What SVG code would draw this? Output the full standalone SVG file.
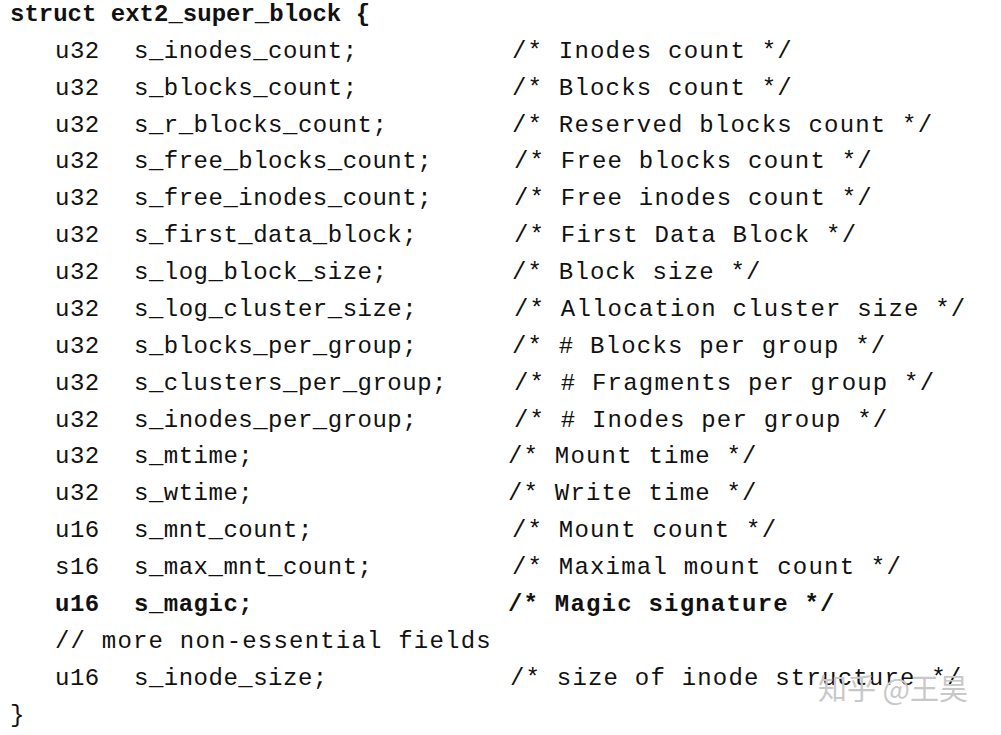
<svg xmlns="http://www.w3.org/2000/svg" width="1001" height="735" viewBox="0 0 1001 735">
<style>
text{font-family:"Liberation Mono","DejaVu Sans Mono",monospace;font-size:24px;letter-spacing:0.5px;fill:#111}
.b{font-weight:bold}
.h{letter-spacing:0}
.c{letter-spacing:1.2px}
.wm{font-family:"Noto Sans CJK SC",sans-serif;fill:#c8c8c8;font-size:29px;letter-spacing:0}
</style>
<rect width="1001" height="735" fill="#fff"/>
<text class="b h" x="10" y="21">struct ext2_super_block {</text>
<g>
<text x="55" y="58">u32</text><text x="134" y="58">s_inodes_count;</text><text class="c" x="512" y="58">/* Inodes count */</text>
<text x="55" y="95">u32</text><text x="134" y="95">s_blocks_count;</text><text class="c" x="512" y="95">/* Blocks count */</text>
<text x="55" y="132">u32</text><text x="134" y="132">s_r_blocks_count;</text><text class="c" x="512" y="132">/* Reserved blocks count */</text>
<text x="55" y="168">u32</text><text x="134" y="168">s_free_blocks_count;</text><text class="c" x="514" y="168">/* Free blocks count */</text>
<text x="55" y="205">u32</text><text x="134" y="205">s_free_inodes_count;</text><text class="c" x="514" y="205">/* Free inodes count */</text>
<text x="55" y="242">u32</text><text x="134" y="242">s_first_data_block;</text><text class="c" x="514" y="242">/* First Data Block */</text>
<text x="55" y="279">u32</text><text x="134" y="279">s_log_block_size;</text><text class="c" x="512" y="279">/* Block size */</text>
<text x="55" y="316">u32</text><text x="134" y="316">s_log_cluster_size;</text><text class="c" x="514" y="316">/* Allocation cluster size */</text>
<text x="55" y="353">u32</text><text x="134" y="353">s_blocks_per_group;</text><text class="c" x="512" y="353">/* # Blocks per group */</text>
<text x="55" y="390">u32</text><text x="134" y="390">s_clusters_per_group;</text><text class="c" x="514" y="390">/* # Fragments per group */</text>
<text x="55" y="427">u32</text><text x="134" y="427">s_inodes_per_group;</text><text class="c" x="514" y="427">/* # Inodes per group */</text>
<text x="55" y="463">u32</text><text x="134" y="463">s_mtime;</text><text class="c" x="508" y="463">/* Mount time */</text>
<text x="55" y="500">u32</text><text x="134" y="500">s_wtime;</text><text class="c" x="508" y="500">/* Write time */</text>
<text x="55" y="537">u16</text><text x="134" y="537">s_mnt_count;</text><text class="c" x="512" y="537">/* Mount count */</text>
<text x="55" y="574">s16</text><text x="134" y="574">s_max_mnt_count;</text><text class="c" x="512" y="574">/* Maximal mount count */</text>
<text class="b" x="55" y="611">u16</text><text class="b" x="134" y="611">s_magic;</text><text class="b c" x="508" y="611">/* Magic signature */</text>
<text class="c" x="55" y="648">// more non-essential fields</text>
<text x="55" y="685">u16</text><text x="134" y="685">s_inode_size;</text><text class="c" x="510" y="685">/* size of inode structure */</text>
</g>
<text x="10" y="722">}</text>
<text class="wm" x="818" y="700">知乎 @王昊</text>
</svg>
